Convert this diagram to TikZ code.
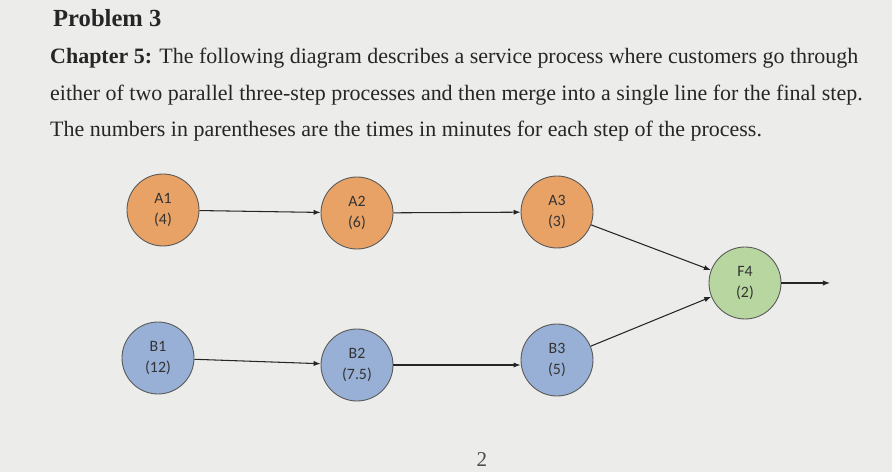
\documentclass[tikz,border=0pt]{standalone}
\usepackage{fontspec}
\setmainfont{Liberation Serif}
\newfontfamily\nodefont{Carlito}
\usetikzlibrary{arrows.meta}
\definecolor{cA}{RGB}{232,162,102}
\definecolor{cB}{RGB}{152,176,214}
\definecolor{cF}{RGB}{184,214,160}
\definecolor{bg}{RGB}{236,236,234}
\tikzset{
  proc/.style={circle,draw=gray!70!black,line width=0.5pt,minimum size=1.44cm,inner sep=0pt,align=center,font=\nodefont\fontsize{9}{12}\selectfont,text=black!80},
  flow/.style={-{Latex[length=4pt,width=3pt]},line width=0.6pt,black!85},
  line/.style={anchor=west,font=\fontsize{12.5}{15}\selectfont,text=black!85}
}
\begin{document}
\begin{tikzpicture}[x=0.02cm,y=-0.02cm]
\fill[bg] (0,0) rectangle (892,472);
\useasboundingbox (0,0) rectangle (892,472);
\node[anchor=west,font=\bfseries\fontsize{14}{16}\selectfont,text=black!85] (t0) at (47,18) {Problem 3};
\node[line] (t1) at (44,58) {\textbf{Chapter 5:} The following diagram describes a service process where customers go through};
\node[line] (t2) at (44,95) {either of two parallel three-step processes and then merge into a single line for the final step.};
\node[line] (t3) at (44,131) {The numbers in parentheses are the times in minutes for each step of the process.};
\node[proc,fill=cA] (A1) at (163,210) {A1\\(4)};
\node[proc,fill=cA] (A2) at (357,213) {A2\\(6)};
\node[proc,fill=cA] (A3) at (557,212) {A3\\(3)};
\node[proc,fill=cF] (F4) at (745,283) {F4\\(2)};
\node[proc,fill=cB] (B1) at (158,358) {B1\\(12)};
\node[proc,fill=cB] (B2) at (357,365) {B2\\(7.5)};
\node[proc,fill=cB] (B3) at (557,360) {B3\\(5)};
\coordinate (out) at (830,283);
\draw[flow] (A1) -- (A2);
\draw[flow] (A2) -- (A3);
\draw[flow] (A3) -- (F4);
\draw[flow] (B1) -- (B2);
\draw[flow] (B2.east) -- (B3.west |- B2.east);
\draw[flow] (B3) -- (F4);
\draw[flow] (F4) -- (out);
\node[font=\fontsize{12}{14}\selectfont,text=black!70] (pg) at (482,460) {2};
\end{tikzpicture}
\end{document}
